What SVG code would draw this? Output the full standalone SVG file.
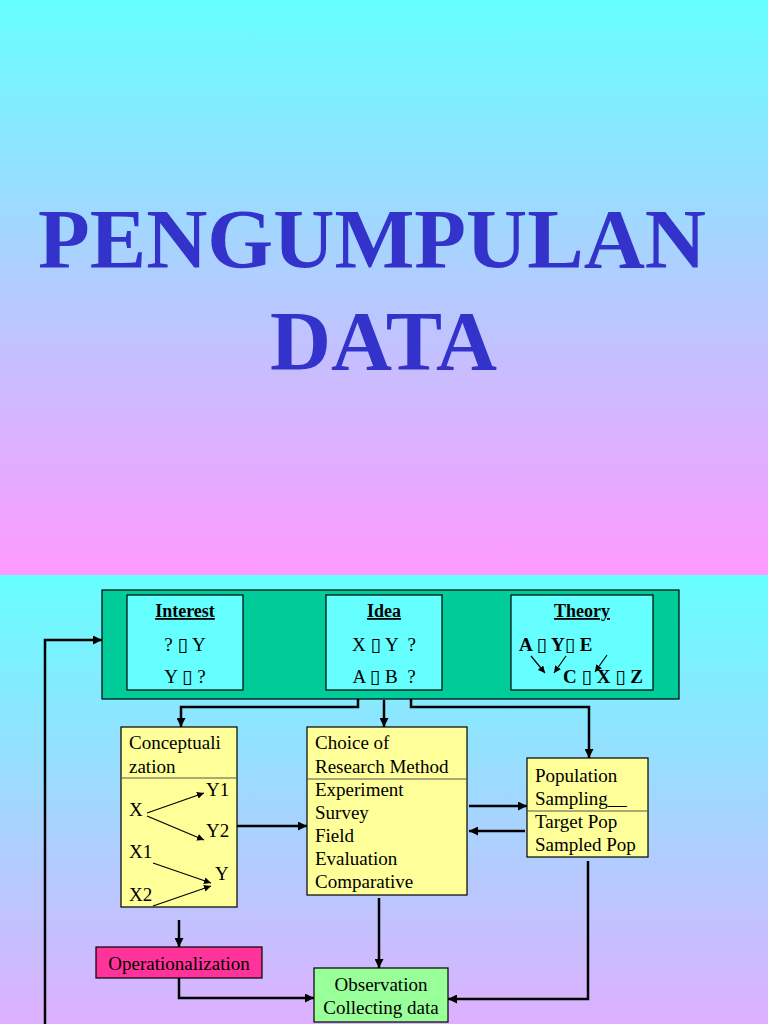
<svg xmlns="http://www.w3.org/2000/svg" width="768" height="1024" viewBox="0 0 768 1024">
<defs>
<linearGradient id="bgTop" x1="0" y1="0" x2="0" y2="1">
<stop offset="0" stop-color="#66FFFF"/>
<stop offset="1" stop-color="#FF99FF"/>
</linearGradient>
<linearGradient id="bgBot" gradientUnits="userSpaceOnUse" x1="0" y1="575" x2="0" y2="1150">
<stop offset="0" stop-color="#66FFFF"/>
<stop offset="1" stop-color="#FF99FF"/>
</linearGradient>
<marker id="ah" viewBox="0 0 10 10" refX="10" refY="5" markerWidth="9" markerHeight="9" markerUnits="userSpaceOnUse" orient="auto">
<path d="M0,0 L10,5 L0,10 z" fill="#000"/>
</marker>
<marker id="ahs" viewBox="0 0 10 10" refX="10" refY="5" markerWidth="7" markerHeight="7" markerUnits="userSpaceOnUse" orient="auto">
<path d="M0,0 L10,5 L0,10 z" fill="#000"/>
</marker>
</defs>
<style>
.t{font-family:"Liberation Serif","Times New Roman","DejaVu Serif",serif;font-size:19px;fill:#000}
.b{font-weight:bold}
.h{font-weight:bold;text-decoration:underline;font-size:18px}
.title{font-family:"Liberation Serif","Times New Roman",serif;font-weight:bold;font-size:85px;fill:#3333CC}
.box{stroke:#000;stroke-width:1.2}
.yel{fill:#FFFF99}
.cy{fill:#66FFFF}
.div{stroke:#555;stroke-width:1.2}
.c{fill:none;stroke:#000;stroke-width:2.5}
.s{fill:none;stroke:#000;stroke-width:1.2}
</style>
<rect x="0" y="0" width="768" height="575" fill="url(#bgTop)"/>
<rect x="0" y="575" width="768" height="449" fill="url(#bgBot)"/>

<g id="title">
<text class="title" x="38" y="268" textLength="668" lengthAdjust="spacingAndGlyphs">PENGUMPULAN</text>
<text class="title" x="270" y="370" textLength="227" lengthAdjust="spacingAndGlyphs">DATA</text>
</g>

<g id="topPanel">
<rect class="box" x="102" y="590" width="577" height="109" fill="#00CC99"/>
</g>
<g id="interest">
<rect class="box cy" x="127" y="595" width="116" height="95"/>
<text class="t h" x="185" y="617" text-anchor="middle">Interest</text>
<text class="t" x="185" y="651" text-anchor="middle">? ▯ Y</text>
<text class="t" x="185" y="683" text-anchor="middle">Y ▯ ?</text>
</g>
<g id="idea">
<rect class="box cy" x="326" y="595" width="116" height="95"/>
<text class="t h" x="384" y="617" text-anchor="middle">Idea</text>
<text class="t" x="384" y="651" text-anchor="middle" xml:space="preserve">X ▯ Y  ?</text>
<text class="t" x="384" y="683" text-anchor="middle" xml:space="preserve">A ▯ B  ?</text>
</g>
<g id="theory">
<rect class="box cy" x="511" y="595" width="142" height="95"/>
<text class="t h" x="582" y="617" text-anchor="middle">Theory</text>
<text class="t b" x="519" y="651">A ▯ Y▯ E</text>
<text class="t b" x="563" y="683">C ▯ X ▯ Z</text>
<line class="s" x1="531" y1="656" x2="545" y2="673" marker-end="url(#ahs)"/>
<line class="s" x1="566" y1="656" x2="554" y2="673" marker-end="url(#ahs)"/>
<line class="s" x1="607" y1="655" x2="595" y2="672" marker-end="url(#ahs)"/>
</g>

<g id="conceptualization">
<rect class="box yel" x="121" y="727" width="116" height="180"/>
<line class="div" x1="121" y1="778" x2="237" y2="778"/>
<text class="t" x="129" y="749">Conceptuali</text>
<text class="t" x="129" y="773">zation</text>
<text class="t" x="206" y="796">Y1</text>
<text class="t" x="129" y="816">X</text>
<text class="t" x="206" y="837">Y2</text>
<text class="t" x="129" y="858">X1</text>
<text class="t" x="215" y="880">Y</text>
<text class="t" x="129" y="901">X2</text>
<line class="s" x1="147" y1="813" x2="204" y2="793" marker-end="url(#ahs)"/>
<line class="s" x1="147" y1="816" x2="204" y2="840" marker-end="url(#ahs)"/>
<line class="s" x1="153" y1="863" x2="211" y2="883" marker-end="url(#ahs)"/>
<line class="s" x1="153" y1="906" x2="211" y2="886" marker-end="url(#ahs)"/>
</g>

<g id="method">
<rect class="box yel" x="307" y="727" width="160" height="168"/>
<line class="div" x1="307" y1="779" x2="467" y2="779"/>
<text class="t" x="315" y="749">Choice of</text>
<text class="t" x="315" y="773">Research Method</text>
<text class="t" x="315" y="796">Experiment</text>
<text class="t" x="315" y="819">Survey</text>
<text class="t" x="315" y="842">Field</text>
<text class="t" x="315" y="865">Evaluation</text>
<text class="t" x="315" y="888">Comparative</text>
</g>

<g id="population">
<rect class="box yel" x="527" y="758" width="121" height="99"/>
<line class="div" x1="527" y1="811" x2="648" y2="811"/>
<text class="t" x="535" y="782">Population</text>
<text class="t" x="535" y="805">Sampling__</text>
<text class="t" x="535" y="828">Target Pop</text>
<text class="t" x="535" y="851">Sampled Pop</text>
</g>

<g id="operationalization">
<rect class="box" x="96" y="947" width="166" height="31" fill="#FF3399"/>
<text class="t" x="179" y="970" text-anchor="middle">Operationalization</text>
</g>

<g id="observation">
<rect class="box" x="314" y="968" width="134" height="54" fill="#99FF99"/>
<text class="t" x="381" y="991" text-anchor="middle">Observation</text>
<text class="t" x="381" y="1014" text-anchor="middle">Collecting data</text>
</g>

<g id="connectors">
<polyline class="c" points="45,1024 45,640 102,640" marker-end="url(#ah)"/>
<polyline class="c" points="358,699 358,707 181,707 181,727" marker-end="url(#ah)"/>
<line class="c" x1="384" y1="700" x2="384" y2="727" marker-end="url(#ah)"/>
<polyline class="c" points="411,699 411,707 589,707 589,758" marker-end="url(#ah)"/>
<line class="c" x1="237" y1="826" x2="307" y2="826" marker-end="url(#ah)"/>
<line class="c" x1="469" y1="806" x2="527" y2="806" marker-end="url(#ah)"/>
<line class="c" x1="525" y1="831" x2="469" y2="831" marker-end="url(#ah)"/>
<line class="c" x1="179" y1="920" x2="179" y2="947" marker-end="url(#ah)"/>
<polyline class="c" points="179,978 179,998 314,998" marker-end="url(#ah)"/>
<line class="c" x1="379" y1="898" x2="379" y2="968" marker-end="url(#ah)"/>
<polyline class="c" points="588,861 588,999 448,999" marker-end="url(#ah)"/>
</g>
</svg>
